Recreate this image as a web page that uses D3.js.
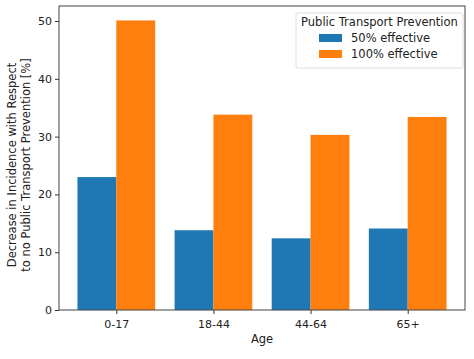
<!DOCTYPE html>
<html>
<head>
<meta charset="utf-8">
<script src="https://cdn.jsdelivr.net/npm/d3@7"></script>
<style>
  body { margin: 0; background: #fff; }
  svg text { font-family: "DejaVu Sans", sans-serif; fill: #222; }
</style>
</head>
<body>
<div id="chart"></div>
<script>
// data
const ageGroups = ["0-17", "18-44", "44-64", "65+"];
const seriesNames = ["50% effective", "100% effective"];
const effective50 = [23.0, 13.8, 12.4, 14.1];
const effective100 = [50.1, 33.8, 30.3, 33.4];
const yTicks = [0, 10, 20, 30, 40, 50];
const colors = ["#1f77b4", "#ff7f0e"];

const W = 474, H = 359;
const margin = {left: 59, right: 9, top: 6, bottom: 49};

const svg = d3.select("#chart").append("svg")
    .attr("width", W)
    .attr("height", H);

// x is a linear index scale, like matplotlib's -0.59 .. 3.59 range
const x = d3.scaleLinear()
    .domain([-0.59, ageGroups.length - 1 + 0.59])
    .range([margin.left, W - margin.right]);

const y = d3.scaleLinear()
    .domain([0, 52.6])
    .range([H - margin.bottom, margin.top]);

const barW = 0.4;
const series = [effective50, effective100];

// bars
series.forEach((vals, s) => {
    svg.append("g")
        .attr("fill", colors[s])
        .selectAll("rect")
        .data(vals)
        .join("rect")
        .attr("x", (d, i) => x(i - barW + s * barW))
        .attr("width", x(barW) - x(0))
        .attr("y", d => y(d))
        .attr("height", d => y(0) - y(d));
});

// axes
const xAxis = d3.axisBottom(x)
    .tickValues(d3.range(ageGroups.length))
    .tickFormat(i => ageGroups[i])
    .tickSizeOuter(0)
    .tickSize(4);

const yAxis = d3.axisLeft(y)
    .tickValues(yTicks)
    .tickSizeOuter(0)
    .tickSize(4);

const gx = svg.append("g")
    .attr("transform", `translate(0,${H - margin.bottom})`)
    .call(xAxis);
gx.select(".domain").remove();
gx.selectAll("text").attr("font-size", 11).attr("dy", "1.0em").style("fill", "#222");
gx.selectAll("line").attr("stroke", "#333");

const gy = svg.append("g")
    .attr("transform", `translate(${margin.left},0)`)
    .call(yAxis);
gy.select(".domain").remove();
gy.selectAll("text").attr("font-size", 11).attr("x", -7).style("fill", "#222");
gy.selectAll("line").attr("stroke", "#333");

// frame
svg.append("rect")
    .attr("x", margin.left)
    .attr("y", margin.top)
    .attr("width", W - margin.left - margin.right)
    .attr("height", H - margin.top - margin.bottom)
    .attr("fill", "none")
    .attr("stroke", "#444")
    .attr("stroke-width", 1);

// axis labels
svg.append("text")
    .attr("x", (margin.left + W - margin.right) / 2)
    .attr("y", 343)
    .attr("text-anchor", "middle")
    .attr("font-size", 11.5)
    .text("Age");

const ylab = svg.append("text")
    .attr("transform", "translate(16,165) rotate(-90)")
    .attr("text-anchor", "middle")
    .attr("font-size", 11.5);
ylab.append("tspan").attr("x", 0).attr("dy", 0).text("Decrease in Incidence with Respect");
ylab.append("tspan").attr("x", 0).attr("dy", "1.25em").text("to no Public Transport Prevention [%]");

// legend
const lg = svg.append("g").attr("transform", "translate(296,13)");
lg.append("rect")
    .attr("width", 167)
    .attr("height", 55)
    .attr("rx", 2)
    .attr("fill", "#fff")
    .attr("stroke", "#ddd");
lg.append("text")
    .attr("x", 83.5)
    .attr("y", 13)
    .attr("text-anchor", "middle")
    .attr("font-size", 11.5)
    .text("Public Transport Prevention");
seriesNames.forEach((name, s) => {
    const row = lg.append("g").attr("transform", `translate(23,${21 + s * 16})`);
    row.append("rect").attr("width", 23).attr("height", 8).attr("fill", colors[s]);
    row.append("text").attr("x", 32).attr("y", 8).attr("font-size", 11.5).text(name);
});
</script>
</body>
</html>
